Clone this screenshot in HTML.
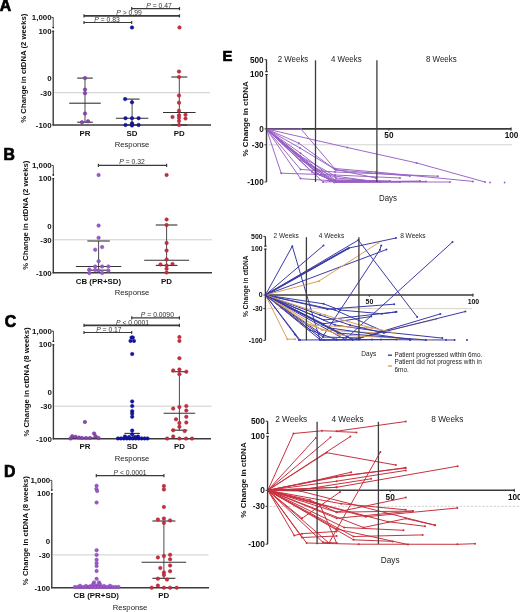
<!DOCTYPE html>
<html><head><meta charset="utf-8"><style>
html,body{margin:0;padding:0;background:#fff;}
body{width:520px;height:612px;overflow:hidden;}
svg{display:block;font-family:"Liberation Sans", sans-serif;filter:blur(0.25px);}
</style></head><body>
<svg width="520" height="612" viewBox="0 0 520 612">
<rect width="520" height="612" fill="#fff"/>
<text x="-0.20" y="11.46" font-size="15.8" font-weight="bold" text-anchor="start" fill="#000" stroke="#000" stroke-width="0.7">A</text>
<line x1="53.20" y1="17.40" x2="53.20" y2="27.60" stroke="#444" stroke-width="1.0" />
<circle cx="53.20" cy="27.60" r="0.9" fill="#222"/>
<line x1="53.20" y1="30.80" x2="53.20" y2="125.60" stroke="#3a3a3a" stroke-width="1.4" />
<line x1="52.30" y1="31.20" x2="54.10" y2="31.20" stroke="#222" stroke-width="1.2" />
<line x1="51.60" y1="17.40" x2="53.20" y2="17.40" stroke="#3a3a3a" stroke-width="1.0" />
<text x="51.60" y="20.23" font-size="7.9" font-weight="bold" text-anchor="end" fill="#111" >1,000</text>
<text x="51.60" y="33.63" font-size="7.9" font-weight="bold" text-anchor="end" fill="#111" >100</text>
<text x="51.60" y="80.83" font-size="7.9" font-weight="bold" text-anchor="end" fill="#111" >0</text>
<text x="51.60" y="95.53" font-size="7.9" font-weight="bold" text-anchor="end" fill="#111" >-30</text>
<text x="51.60" y="127.83" font-size="7.9" font-weight="bold" text-anchor="end" fill="#111" >-100</text>
<line x1="54.20" y1="92.70" x2="210.00" y2="92.70" stroke="#c8c8c8" stroke-width="0.9" />
<line x1="52.50" y1="125.00" x2="211.00" y2="125.00" stroke="#3a3a3a" stroke-width="1.6" />
<g transform="translate(23.00,68.20) rotate(-90)"><text x="0" y="2.77" font-size="7.75" font-weight="bold" text-anchor="middle" fill="#111">% Change in ctDNA (2 weeks)</text></g>
<text x="85.00" y="135.83" font-size="7.9" font-weight="bold" text-anchor="middle" fill="#111" >PR</text>
<text x="132.10" y="135.83" font-size="7.9" font-weight="bold" text-anchor="middle" fill="#111" >SD</text>
<text x="179.30" y="135.83" font-size="7.9" font-weight="bold" text-anchor="middle" fill="#111" >PD</text>
<text x="132.00" y="147.36" font-size="7.7" font-weight="normal" text-anchor="middle" fill="#222" >Response</text>
<line x1="85.00" y1="78.10" x2="85.00" y2="122.20" stroke="#4a4a4a" stroke-width="1" />
<line x1="77.20" y1="78.10" x2="92.80" y2="78.10" stroke="#333" stroke-width="1.1" />
<line x1="77.20" y1="122.20" x2="92.80" y2="122.20" stroke="#333" stroke-width="1.1" />
<line x1="69.20" y1="103.20" x2="100.80" y2="103.20" stroke="#333" stroke-width="1.1" />
<circle cx="85.00" cy="78.10" r="1.75" fill="#8a46b0" stroke="#6a3090" stroke-width="0.5"/>
<circle cx="85.00" cy="89.60" r="1.75" fill="#8a46b0" stroke="#6a3090" stroke-width="0.5"/>
<circle cx="85.00" cy="93.20" r="1.75" fill="#8a46b0" stroke="#6a3090" stroke-width="0.5"/>
<circle cx="85.00" cy="113.50" r="1.75" fill="#8a46b0" stroke="#6a3090" stroke-width="0.5"/>
<circle cx="82.00" cy="122.20" r="1.75" fill="#8a46b0" stroke="#6a3090" stroke-width="0.5"/>
<circle cx="88.00" cy="121.20" r="1.75" fill="#8a46b0" stroke="#6a3090" stroke-width="0.5"/>
<line x1="132.10" y1="99.10" x2="132.10" y2="125.00" stroke="#4a4a4a" stroke-width="1" />
<line x1="124.60" y1="99.10" x2="139.60" y2="99.10" stroke="#333" stroke-width="1.1" />
<line x1="124.60" y1="125.00" x2="139.60" y2="125.00" stroke="#333" stroke-width="1.1" />
<line x1="115.90" y1="118.20" x2="148.30" y2="118.20" stroke="#333" stroke-width="1.1" />
<circle cx="132.00" cy="27.50" r="1.75" fill="#1414a8" stroke="#0c0c80" stroke-width="0.5"/>
<circle cx="125.10" cy="99.10" r="1.75" fill="#1414a8" stroke="#0c0c80" stroke-width="0.5"/>
<circle cx="132.00" cy="102.30" r="1.75" fill="#1414a8" stroke="#0c0c80" stroke-width="0.5"/>
<circle cx="125.50" cy="118.20" r="1.75" fill="#1414a8" stroke="#0c0c80" stroke-width="0.5"/>
<circle cx="132.00" cy="118.20" r="1.75" fill="#1414a8" stroke="#0c0c80" stroke-width="0.5"/>
<circle cx="138.60" cy="118.20" r="1.75" fill="#1414a8" stroke="#0c0c80" stroke-width="0.5"/>
<circle cx="125.50" cy="125.00" r="1.75" fill="#1414a8" stroke="#0c0c80" stroke-width="0.5"/>
<circle cx="132.00" cy="123.30" r="1.75" fill="#1414a8" stroke="#0c0c80" stroke-width="0.5"/>
<circle cx="132.00" cy="125.50" r="1.75" fill="#1414a8" stroke="#0c0c80" stroke-width="0.5"/>
<circle cx="138.60" cy="125.00" r="1.75" fill="#1414a8" stroke="#0c0c80" stroke-width="0.5"/>
<line x1="179.30" y1="77.00" x2="179.30" y2="125.00" stroke="#4a4a4a" stroke-width="1" />
<line x1="171.30" y1="77.00" x2="187.30" y2="77.00" stroke="#333" stroke-width="1.1" />
<line x1="171.30" y1="125.00" x2="187.30" y2="125.00" stroke="#333" stroke-width="1.1" />
<line x1="163.00" y1="112.50" x2="195.60" y2="112.50" stroke="#333" stroke-width="1.1" />
<circle cx="179.50" cy="27.50" r="1.75" fill="#cc2c40" stroke="#a02030" stroke-width="0.5"/>
<circle cx="179.00" cy="71.60" r="1.75" fill="#cc2c40" stroke="#a02030" stroke-width="0.5"/>
<circle cx="179.00" cy="77.00" r="1.75" fill="#cc2c40" stroke="#a02030" stroke-width="0.5"/>
<circle cx="179.00" cy="95.50" r="1.75" fill="#cc2c40" stroke="#a02030" stroke-width="0.5"/>
<circle cx="179.00" cy="102.70" r="1.75" fill="#cc2c40" stroke="#a02030" stroke-width="0.5"/>
<circle cx="179.00" cy="110.80" r="1.75" fill="#cc2c40" stroke="#a02030" stroke-width="0.5"/>
<circle cx="179.00" cy="115.30" r="1.75" fill="#cc2c40" stroke="#a02030" stroke-width="0.5"/>
<circle cx="172.50" cy="117.00" r="1.75" fill="#cc2c40" stroke="#a02030" stroke-width="0.5"/>
<circle cx="179.00" cy="117.80" r="1.75" fill="#cc2c40" stroke="#a02030" stroke-width="0.5"/>
<circle cx="185.50" cy="114.70" r="1.75" fill="#cc2c40" stroke="#a02030" stroke-width="0.5"/>
<circle cx="185.50" cy="118.50" r="1.75" fill="#cc2c40" stroke="#a02030" stroke-width="0.5"/>
<circle cx="179.00" cy="121.00" r="1.75" fill="#cc2c40" stroke="#a02030" stroke-width="0.5"/>
<circle cx="179.00" cy="125.00" r="1.75" fill="#cc2c40" stroke="#a02030" stroke-width="0.5"/>
<line x1="131.70" y1="8.70" x2="179.50" y2="8.70" stroke="#3a3a3a" stroke-width="1.2" />
<line x1="131.70" y1="7.10" x2="131.70" y2="10.30" stroke="#3a3a3a" stroke-width="1.2" />
<line x1="179.50" y1="7.10" x2="179.50" y2="10.30" stroke="#3a3a3a" stroke-width="1.2" />
<text x="159.00" y="7.63" font-size="6.8" text-anchor="middle" fill="#333"><tspan font-style="italic">P</tspan> = 0.47</text>
<line x1="84.00" y1="15.90" x2="179.50" y2="15.90" stroke="#3a3a3a" stroke-width="1.8" />
<line x1="84.00" y1="14.30" x2="84.00" y2="17.50" stroke="#3a3a3a" stroke-width="1.2" />
<line x1="179.50" y1="14.30" x2="179.50" y2="17.50" stroke="#3a3a3a" stroke-width="1.2" />
<text x="129.00" y="14.63" font-size="6.8" text-anchor="middle" fill="#333"><tspan font-style="italic">P</tspan> &gt; 0.99</text>
<line x1="84.00" y1="22.50" x2="131.70" y2="22.50" stroke="#3a3a3a" stroke-width="1.2" />
<line x1="84.00" y1="20.90" x2="84.00" y2="24.10" stroke="#3a3a3a" stroke-width="1.2" />
<line x1="131.70" y1="20.90" x2="131.70" y2="24.10" stroke="#3a3a3a" stroke-width="1.2" />
<text x="107.00" y="21.73" font-size="6.8" text-anchor="middle" fill="#333"><tspan font-style="italic">P</tspan> = 0.83</text>
<text x="3.40" y="160.46" font-size="15.8" font-weight="bold" text-anchor="start" fill="#000" stroke="#000" stroke-width="0.7">B</text>
<line x1="53.30" y1="165.40" x2="53.30" y2="175.00" stroke="#444" stroke-width="1.0" />
<circle cx="53.30" cy="175.00" r="0.9" fill="#222"/>
<line x1="53.30" y1="178.20" x2="53.30" y2="273.40" stroke="#3a3a3a" stroke-width="1.4" />
<line x1="52.40" y1="178.60" x2="54.20" y2="178.60" stroke="#222" stroke-width="1.2" />
<line x1="51.70" y1="165.40" x2="53.30" y2="165.40" stroke="#3a3a3a" stroke-width="1.0" />
<text x="51.70" y="168.23" font-size="7.9" font-weight="bold" text-anchor="end" fill="#111" >1,000</text>
<text x="51.70" y="181.03" font-size="7.9" font-weight="bold" text-anchor="end" fill="#111" >100</text>
<text x="51.70" y="228.63" font-size="7.9" font-weight="bold" text-anchor="end" fill="#111" >0</text>
<text x="51.70" y="242.63" font-size="7.9" font-weight="bold" text-anchor="end" fill="#111" >-30</text>
<text x="51.70" y="275.63" font-size="7.9" font-weight="bold" text-anchor="end" fill="#111" >-100</text>
<line x1="54.30" y1="239.80" x2="212.00" y2="239.80" stroke="#c8c8c8" stroke-width="0.9" />
<line x1="52.60" y1="272.80" x2="212.00" y2="272.80" stroke="#3a3a3a" stroke-width="1.6" />
<g transform="translate(25.40,215.20) rotate(-90)"><text x="0" y="2.77" font-size="7.75" font-weight="bold" text-anchor="middle" fill="#111">% Change in ctDNA (2 weeks)</text></g>
<text x="98.40" y="283.73" font-size="7.9" font-weight="bold" text-anchor="middle" fill="#111" >CB (PR+SD)</text>
<text x="166.60" y="283.73" font-size="7.9" font-weight="bold" text-anchor="middle" fill="#111" >PD</text>
<text x="132.00" y="295.36" font-size="7.7" font-weight="normal" text-anchor="middle" fill="#222" >Response</text>
<line x1="98.60" y1="241.00" x2="98.60" y2="270.20" stroke="#4a4a4a" stroke-width="1" />
<line x1="87.40" y1="241.00" x2="109.80" y2="241.00" stroke="#333" stroke-width="1.1" />
<line x1="87.40" y1="270.20" x2="109.80" y2="270.20" stroke="#333" stroke-width="1.1" />
<line x1="75.90" y1="266.50" x2="121.30" y2="266.50" stroke="#333" stroke-width="1.1" />
<circle cx="98.60" cy="175.00" r="1.75" fill="#9c58cc" stroke="#7c44a8" stroke-width="0.5"/>
<circle cx="98.60" cy="225.60" r="1.75" fill="#9c58cc" stroke="#7c44a8" stroke-width="0.5"/>
<circle cx="98.60" cy="237.80" r="1.75" fill="#9c58cc" stroke="#7c44a8" stroke-width="0.5"/>
<circle cx="102.10" cy="247.10" r="1.75" fill="#9c58cc" stroke="#7c44a8" stroke-width="0.5"/>
<circle cx="95.20" cy="249.70" r="1.75" fill="#9c58cc" stroke="#7c44a8" stroke-width="0.5"/>
<circle cx="98.60" cy="261.20" r="1.75" fill="#9c58cc" stroke="#7c44a8" stroke-width="0.5"/>
<circle cx="95.20" cy="266.50" r="1.75" fill="#9c58cc" stroke="#7c44a8" stroke-width="0.5"/>
<circle cx="102.10" cy="266.50" r="1.75" fill="#9c58cc" stroke="#7c44a8" stroke-width="0.5"/>
<circle cx="108.40" cy="266.50" r="1.75" fill="#9c58cc" stroke="#7c44a8" stroke-width="0.5"/>
<circle cx="89.30" cy="269.50" r="1.75" fill="#9c58cc" stroke="#7c44a8" stroke-width="0.5"/>
<circle cx="95.20" cy="270.00" r="1.75" fill="#9c58cc" stroke="#7c44a8" stroke-width="0.5"/>
<circle cx="108.40" cy="270.70" r="1.75" fill="#9c58cc" stroke="#7c44a8" stroke-width="0.5"/>
<circle cx="89.30" cy="273.00" r="1.75" fill="#9c58cc" stroke="#7c44a8" stroke-width="0.5"/>
<circle cx="102.10" cy="273.00" r="1.75" fill="#9c58cc" stroke="#7c44a8" stroke-width="0.5"/>
<circle cx="98.60" cy="270.50" r="1.75" fill="#9c58cc" stroke="#7c44a8" stroke-width="0.5"/>
<line x1="166.60" y1="225.00" x2="166.60" y2="265.40" stroke="#4a4a4a" stroke-width="1" />
<line x1="155.80" y1="225.00" x2="177.40" y2="225.00" stroke="#333" stroke-width="1.1" />
<line x1="155.80" y1="265.40" x2="177.40" y2="265.40" stroke="#333" stroke-width="1.1" />
<line x1="144.20" y1="260.20" x2="189.00" y2="260.20" stroke="#333" stroke-width="1.1" />
<circle cx="166.60" cy="175.00" r="1.75" fill="#cc2c40" stroke="#a02030" stroke-width="0.5"/>
<circle cx="166.60" cy="219.50" r="1.75" fill="#cc2c40" stroke="#a02030" stroke-width="0.5"/>
<circle cx="166.60" cy="225.00" r="1.75" fill="#cc2c40" stroke="#a02030" stroke-width="0.5"/>
<circle cx="166.60" cy="243.00" r="1.75" fill="#cc2c40" stroke="#a02030" stroke-width="0.5"/>
<circle cx="166.60" cy="250.60" r="1.75" fill="#cc2c40" stroke="#a02030" stroke-width="0.5"/>
<circle cx="166.60" cy="259.40" r="1.75" fill="#cc2c40" stroke="#a02030" stroke-width="0.5"/>
<circle cx="160.50" cy="264.50" r="1.75" fill="#cc2c40" stroke="#a02030" stroke-width="0.5"/>
<circle cx="172.50" cy="264.00" r="1.75" fill="#cc2c40" stroke="#a02030" stroke-width="0.5"/>
<circle cx="166.60" cy="265.50" r="1.75" fill="#cc2c40" stroke="#a02030" stroke-width="0.5"/>
<circle cx="166.60" cy="268.70" r="1.75" fill="#cc2c40" stroke="#a02030" stroke-width="0.5"/>
<circle cx="166.60" cy="272.50" r="1.75" fill="#cc2c40" stroke="#a02030" stroke-width="0.5"/>
<line x1="98.40" y1="165.30" x2="166.60" y2="165.30" stroke="#3a3a3a" stroke-width="1.2" />
<line x1="98.40" y1="163.70" x2="98.40" y2="166.90" stroke="#3a3a3a" stroke-width="1.2" />
<line x1="166.60" y1="163.70" x2="166.60" y2="166.90" stroke="#3a3a3a" stroke-width="1.2" />
<text x="132.00" y="164.03" font-size="6.8" text-anchor="middle" fill="#333"><tspan font-style="italic">P</tspan> = 0.32</text>
<text x="4.70" y="326.86" font-size="15.8" font-weight="bold" text-anchor="start" fill="#000" stroke="#000" stroke-width="0.7">C</text>
<line x1="53.40" y1="331.10" x2="53.40" y2="341.20" stroke="#444" stroke-width="1.0" />
<circle cx="53.40" cy="341.20" r="0.9" fill="#222"/>
<line x1="53.40" y1="344.40" x2="53.40" y2="439.40" stroke="#3a3a3a" stroke-width="1.4" />
<line x1="52.50" y1="344.80" x2="54.30" y2="344.80" stroke="#222" stroke-width="1.2" />
<line x1="51.80" y1="331.10" x2="53.40" y2="331.10" stroke="#3a3a3a" stroke-width="1.0" />
<text x="51.80" y="333.93" font-size="7.9" font-weight="bold" text-anchor="end" fill="#111" >1,000</text>
<text x="51.80" y="347.23" font-size="7.9" font-weight="bold" text-anchor="end" fill="#111" >100</text>
<text x="51.80" y="394.63" font-size="7.9" font-weight="bold" text-anchor="end" fill="#111" >0</text>
<text x="51.80" y="409.03" font-size="7.9" font-weight="bold" text-anchor="end" fill="#111" >-30</text>
<text x="51.80" y="441.63" font-size="7.9" font-weight="bold" text-anchor="end" fill="#111" >-100</text>
<line x1="54.40" y1="406.20" x2="211.50" y2="406.20" stroke="#c8c8c8" stroke-width="0.9" />
<line x1="52.70" y1="438.80" x2="211.00" y2="438.80" stroke="#3a3a3a" stroke-width="1.6" />
<g transform="translate(26.40,382.00) rotate(-90)"><text x="0" y="2.77" font-size="7.75" font-weight="bold" text-anchor="middle" fill="#111">% Change in ctDNA (8 weeks)</text></g>
<text x="84.90" y="449.33" font-size="7.9" font-weight="bold" text-anchor="middle" fill="#111" >PR</text>
<text x="132.20" y="449.33" font-size="7.9" font-weight="bold" text-anchor="middle" fill="#111" >SD</text>
<text x="179.40" y="449.33" font-size="7.9" font-weight="bold" text-anchor="middle" fill="#111" >PD</text>
<text x="132.00" y="460.76" font-size="7.7" font-weight="normal" text-anchor="middle" fill="#222" >Response</text>
<line x1="84.90" y1="438.00" x2="84.90" y2="438.00" stroke="#4a4a4a" stroke-width="1" />
<line x1="84.90" y1="438.00" x2="84.90" y2="438.00" stroke="#333" stroke-width="1.1" />
<line x1="84.90" y1="438.00" x2="84.90" y2="438.00" stroke="#333" stroke-width="1.1" />
<line x1="70.90" y1="438.00" x2="98.90" y2="438.00" stroke="#333" stroke-width="1.1" />
<circle cx="84.90" cy="422.00" r="1.75" fill="#8a46b0" stroke="#6a3090" stroke-width="0.5"/>
<circle cx="94.10" cy="433.50" r="1.75" fill="#8a46b0" stroke="#6a3090" stroke-width="0.5"/>
<circle cx="72.20" cy="436.20" r="1.75" fill="#8a46b0" stroke="#6a3090" stroke-width="0.5"/>
<circle cx="75.50" cy="436.80" r="1.75" fill="#8a46b0" stroke="#6a3090" stroke-width="0.5"/>
<circle cx="79.00" cy="437.60" r="1.75" fill="#8a46b0" stroke="#6a3090" stroke-width="0.5"/>
<circle cx="82.00" cy="438.00" r="1.75" fill="#8a46b0" stroke="#6a3090" stroke-width="0.5"/>
<circle cx="86.00" cy="438.00" r="1.75" fill="#8a46b0" stroke="#6a3090" stroke-width="0.5"/>
<circle cx="90.00" cy="438.00" r="1.75" fill="#8a46b0" stroke="#6a3090" stroke-width="0.5"/>
<circle cx="95.50" cy="436.20" r="1.75" fill="#8a46b0" stroke="#6a3090" stroke-width="0.5"/>
<circle cx="98.50" cy="438.00" r="1.75" fill="#8a46b0" stroke="#6a3090" stroke-width="0.5"/>
<circle cx="70.50" cy="438.50" r="1.75" fill="#8a46b0" stroke="#6a3090" stroke-width="0.5"/>
<line x1="132.20" y1="433.40" x2="132.20" y2="438.00" stroke="#4a4a4a" stroke-width="1" />
<line x1="132.20" y1="433.40" x2="132.20" y2="433.40" stroke="#333" stroke-width="1.1" />
<line x1="132.20" y1="438.00" x2="132.20" y2="438.00" stroke="#333" stroke-width="1.1" />
<line x1="124.50" y1="433.40" x2="139.90" y2="433.40" stroke="#333" stroke-width="1.1" />
<circle cx="131.60" cy="337.50" r="1.75" fill="#1414a8" stroke="#0c0c80" stroke-width="0.5"/>
<circle cx="132.80" cy="337.50" r="1.75" fill="#1414a8" stroke="#0c0c80" stroke-width="0.5"/>
<circle cx="130.50" cy="340.90" r="1.75" fill="#1414a8" stroke="#0c0c80" stroke-width="0.5"/>
<circle cx="134.00" cy="340.90" r="1.75" fill="#1414a8" stroke="#0c0c80" stroke-width="0.5"/>
<circle cx="132.20" cy="354.00" r="1.75" fill="#1414a8" stroke="#0c0c80" stroke-width="0.5"/>
<circle cx="132.20" cy="401.40" r="1.75" fill="#1414a8" stroke="#0c0c80" stroke-width="0.5"/>
<circle cx="132.20" cy="406.10" r="1.75" fill="#1414a8" stroke="#0c0c80" stroke-width="0.5"/>
<circle cx="132.20" cy="411.20" r="1.75" fill="#1414a8" stroke="#0c0c80" stroke-width="0.5"/>
<circle cx="132.20" cy="413.60" r="1.75" fill="#1414a8" stroke="#0c0c80" stroke-width="0.5"/>
<circle cx="132.20" cy="416.80" r="1.75" fill="#1414a8" stroke="#0c0c80" stroke-width="0.5"/>
<circle cx="132.20" cy="430.60" r="1.75" fill="#1414a8" stroke="#0c0c80" stroke-width="0.5"/>
<circle cx="132.20" cy="434.30" r="1.75" fill="#1414a8" stroke="#0c0c80" stroke-width="0.5"/>
<circle cx="118.00" cy="438.40" r="1.75" fill="#1414a8" stroke="#0c0c80" stroke-width="0.5"/>
<circle cx="120.95" cy="438.40" r="1.75" fill="#1414a8" stroke="#0c0c80" stroke-width="0.5"/>
<circle cx="123.90" cy="438.40" r="1.75" fill="#1414a8" stroke="#0c0c80" stroke-width="0.5"/>
<circle cx="126.85" cy="438.40" r="1.75" fill="#1414a8" stroke="#0c0c80" stroke-width="0.5"/>
<circle cx="129.80" cy="438.40" r="1.75" fill="#1414a8" stroke="#0c0c80" stroke-width="0.5"/>
<circle cx="132.75" cy="438.40" r="1.75" fill="#1414a8" stroke="#0c0c80" stroke-width="0.5"/>
<circle cx="135.70" cy="438.40" r="1.75" fill="#1414a8" stroke="#0c0c80" stroke-width="0.5"/>
<circle cx="138.65" cy="438.40" r="1.75" fill="#1414a8" stroke="#0c0c80" stroke-width="0.5"/>
<circle cx="141.60" cy="438.40" r="1.75" fill="#1414a8" stroke="#0c0c80" stroke-width="0.5"/>
<circle cx="144.55" cy="438.40" r="1.75" fill="#1414a8" stroke="#0c0c80" stroke-width="0.5"/>
<circle cx="147.50" cy="438.40" r="1.75" fill="#1414a8" stroke="#0c0c80" stroke-width="0.5"/>
<circle cx="125.00" cy="436.50" r="1.75" fill="#1414a8" stroke="#0c0c80" stroke-width="0.5"/>
<circle cx="138.00" cy="436.50" r="1.75" fill="#1414a8" stroke="#0c0c80" stroke-width="0.5"/>
<circle cx="129.00" cy="437.00" r="1.75" fill="#1414a8" stroke="#0c0c80" stroke-width="0.5"/>
<circle cx="135.00" cy="437.00" r="1.75" fill="#1414a8" stroke="#0c0c80" stroke-width="0.5"/>
<line x1="179.40" y1="371.70" x2="179.40" y2="430.20" stroke="#4a4a4a" stroke-width="1" />
<line x1="171.40" y1="371.70" x2="187.40" y2="371.70" stroke="#333" stroke-width="1.1" />
<line x1="171.40" y1="430.20" x2="187.40" y2="430.20" stroke="#333" stroke-width="1.1" />
<line x1="163.60" y1="413.30" x2="195.20" y2="413.30" stroke="#333" stroke-width="1.1" />
<circle cx="179.40" cy="337.10" r="1.75" fill="#cc2c40" stroke="#a02030" stroke-width="0.5"/>
<circle cx="179.40" cy="340.90" r="1.75" fill="#cc2c40" stroke="#a02030" stroke-width="0.5"/>
<circle cx="179.40" cy="358.20" r="1.75" fill="#cc2c40" stroke="#a02030" stroke-width="0.5"/>
<circle cx="179.40" cy="369.50" r="1.75" fill="#cc2c40" stroke="#a02030" stroke-width="0.5"/>
<circle cx="173.20" cy="370.40" r="1.75" fill="#cc2c40" stroke="#a02030" stroke-width="0.5"/>
<circle cx="186.30" cy="371.70" r="1.75" fill="#cc2c40" stroke="#a02030" stroke-width="0.5"/>
<circle cx="179.40" cy="374.20" r="1.75" fill="#cc2c40" stroke="#a02030" stroke-width="0.5"/>
<circle cx="173.20" cy="408.60" r="1.75" fill="#cc2c40" stroke="#a02030" stroke-width="0.5"/>
<circle cx="179.40" cy="407.10" r="1.75" fill="#cc2c40" stroke="#a02030" stroke-width="0.5"/>
<circle cx="186.30" cy="406.10" r="1.75" fill="#cc2c40" stroke="#a02030" stroke-width="0.5"/>
<circle cx="186.30" cy="410.50" r="1.75" fill="#cc2c40" stroke="#a02030" stroke-width="0.5"/>
<circle cx="186.30" cy="416.80" r="1.75" fill="#cc2c40" stroke="#a02030" stroke-width="0.5"/>
<circle cx="176.00" cy="419.30" r="1.75" fill="#cc2c40" stroke="#a02030" stroke-width="0.5"/>
<circle cx="186.30" cy="422.50" r="1.75" fill="#cc2c40" stroke="#a02030" stroke-width="0.5"/>
<circle cx="179.40" cy="423.00" r="1.75" fill="#cc2c40" stroke="#a02030" stroke-width="0.5"/>
<circle cx="179.40" cy="426.80" r="1.75" fill="#cc2c40" stroke="#a02030" stroke-width="0.5"/>
<circle cx="173.20" cy="430.20" r="1.75" fill="#cc2c40" stroke="#a02030" stroke-width="0.5"/>
<circle cx="184.70" cy="431.10" r="1.75" fill="#cc2c40" stroke="#a02030" stroke-width="0.5"/>
<circle cx="173.20" cy="436.50" r="1.75" fill="#cc2c40" stroke="#a02030" stroke-width="0.5"/>
<circle cx="167.10" cy="438.60" r="1.75" fill="#cc2c40" stroke="#a02030" stroke-width="0.5"/>
<circle cx="179.40" cy="438.60" r="1.75" fill="#cc2c40" stroke="#a02030" stroke-width="0.5"/>
<circle cx="186.00" cy="438.60" r="1.75" fill="#cc2c40" stroke="#a02030" stroke-width="0.5"/>
<circle cx="192.00" cy="438.60" r="1.75" fill="#cc2c40" stroke="#a02030" stroke-width="0.5"/>
<line x1="131.70" y1="317.80" x2="179.40" y2="317.80" stroke="#3a3a3a" stroke-width="1.2" />
<line x1="131.70" y1="316.20" x2="131.70" y2="319.40" stroke="#3a3a3a" stroke-width="1.2" />
<line x1="179.40" y1="316.20" x2="179.40" y2="319.40" stroke="#3a3a3a" stroke-width="1.2" />
<text x="157.40" y="317.03" font-size="6.8" text-anchor="middle" fill="#333"><tspan font-style="italic">P</tspan> = 0.0090</text>
<line x1="84.00" y1="325.40" x2="179.40" y2="325.40" stroke="#3a3a3a" stroke-width="1.6" />
<line x1="84.00" y1="323.80" x2="84.00" y2="327.00" stroke="#3a3a3a" stroke-width="1.2" />
<line x1="179.40" y1="323.80" x2="179.40" y2="327.00" stroke="#3a3a3a" stroke-width="1.2" />
<text x="132.60" y="324.63" font-size="6.8" text-anchor="middle" fill="#333"><tspan font-style="italic">P</tspan> &lt; 0.0001</text>
<line x1="84.00" y1="332.50" x2="131.70" y2="332.50" stroke="#3a3a3a" stroke-width="1.2" />
<line x1="84.00" y1="330.90" x2="84.00" y2="334.10" stroke="#3a3a3a" stroke-width="1.2" />
<line x1="131.70" y1="330.90" x2="131.70" y2="334.10" stroke="#3a3a3a" stroke-width="1.2" />
<text x="108.90" y="331.83" font-size="6.8" text-anchor="middle" fill="#333"><tspan font-style="italic">P</tspan> = 0.17</text>
<text x="4.00" y="477.16" font-size="15.8" font-weight="bold" text-anchor="start" fill="#000" stroke="#000" stroke-width="0.7">D</text>
<line x1="51.80" y1="480.40" x2="51.80" y2="490.10" stroke="#444" stroke-width="1.0" />
<circle cx="51.80" cy="490.10" r="0.9" fill="#222"/>
<line x1="51.80" y1="493.30" x2="51.80" y2="588.30" stroke="#3a3a3a" stroke-width="1.4" />
<line x1="50.90" y1="493.70" x2="52.70" y2="493.70" stroke="#222" stroke-width="1.2" />
<line x1="50.20" y1="480.40" x2="51.80" y2="480.40" stroke="#3a3a3a" stroke-width="1.0" />
<text x="50.20" y="483.23" font-size="7.9" font-weight="bold" text-anchor="end" fill="#111" >1,000</text>
<text x="50.20" y="496.13" font-size="7.9" font-weight="bold" text-anchor="end" fill="#111" >100</text>
<text x="50.20" y="544.03" font-size="7.9" font-weight="bold" text-anchor="end" fill="#111" >0</text>
<text x="50.20" y="557.73" font-size="7.9" font-weight="bold" text-anchor="end" fill="#111" >-30</text>
<text x="50.20" y="590.53" font-size="7.9" font-weight="bold" text-anchor="end" fill="#111" >-100</text>
<line x1="52.80" y1="554.90" x2="208.50" y2="554.90" stroke="#c8c8c8" stroke-width="0.9" />
<line x1="51.10" y1="587.70" x2="209.00" y2="587.70" stroke="#3a3a3a" stroke-width="1.6" />
<g transform="translate(25.40,530.60) rotate(-90)"><text x="0" y="2.77" font-size="7.75" font-weight="bold" text-anchor="middle" fill="#111">% Change in ctDNA (8 weeks)</text></g>
<text x="96.30" y="598.23" font-size="7.9" font-weight="bold" text-anchor="middle" fill="#111" >CB (PR+SD)</text>
<text x="163.70" y="598.23" font-size="7.9" font-weight="bold" text-anchor="middle" fill="#111" >PD</text>
<text x="130.00" y="609.76" font-size="7.7" font-weight="normal" text-anchor="middle" fill="#222" >Response</text>
<line x1="96.60" y1="587.00" x2="96.60" y2="587.00" stroke="#4a4a4a" stroke-width="1" />
<line x1="96.60" y1="587.00" x2="96.60" y2="587.00" stroke="#333" stroke-width="1.1" />
<line x1="96.60" y1="587.00" x2="96.60" y2="587.00" stroke="#333" stroke-width="1.1" />
<line x1="74.60" y1="587.00" x2="118.60" y2="587.00" stroke="#333" stroke-width="1.1" />
<circle cx="96.60" cy="485.80" r="1.75" fill="#9c58cc" stroke="#7c44a8" stroke-width="0.5"/>
<circle cx="96.40" cy="489.00" r="1.75" fill="#9c58cc" stroke="#7c44a8" stroke-width="0.5"/>
<circle cx="97.20" cy="491.00" r="1.75" fill="#9c58cc" stroke="#7c44a8" stroke-width="0.5"/>
<circle cx="96.60" cy="502.50" r="1.75" fill="#9c58cc" stroke="#7c44a8" stroke-width="0.5"/>
<circle cx="96.60" cy="550.20" r="1.75" fill="#9c58cc" stroke="#7c44a8" stroke-width="0.5"/>
<circle cx="96.60" cy="554.90" r="1.75" fill="#9c58cc" stroke="#7c44a8" stroke-width="0.5"/>
<circle cx="96.60" cy="559.80" r="1.75" fill="#9c58cc" stroke="#7c44a8" stroke-width="0.5"/>
<circle cx="96.60" cy="563.10" r="1.75" fill="#9c58cc" stroke="#7c44a8" stroke-width="0.5"/>
<circle cx="96.60" cy="566.10" r="1.75" fill="#9c58cc" stroke="#7c44a8" stroke-width="0.5"/>
<circle cx="96.60" cy="571.00" r="1.75" fill="#9c58cc" stroke="#7c44a8" stroke-width="0.5"/>
<circle cx="96.60" cy="578.80" r="1.75" fill="#9c58cc" stroke="#7c44a8" stroke-width="0.5"/>
<circle cx="94.00" cy="582.40" r="1.75" fill="#9c58cc" stroke="#7c44a8" stroke-width="0.5"/>
<circle cx="99.00" cy="582.40" r="1.75" fill="#9c58cc" stroke="#7c44a8" stroke-width="0.5"/>
<circle cx="93.00" cy="584.50" r="1.75" fill="#9c58cc" stroke="#7c44a8" stroke-width="0.5"/>
<circle cx="100.00" cy="584.50" r="1.75" fill="#9c58cc" stroke="#7c44a8" stroke-width="0.5"/>
<circle cx="96.60" cy="585.50" r="1.75" fill="#9c58cc" stroke="#7c44a8" stroke-width="0.5"/>
<circle cx="75.00" cy="587.00" r="1.75" fill="#9c58cc" stroke="#7c44a8" stroke-width="0.5"/>
<circle cx="77.90" cy="587.00" r="1.75" fill="#9c58cc" stroke="#7c44a8" stroke-width="0.5"/>
<circle cx="80.80" cy="587.00" r="1.75" fill="#9c58cc" stroke="#7c44a8" stroke-width="0.5"/>
<circle cx="83.70" cy="587.00" r="1.75" fill="#9c58cc" stroke="#7c44a8" stroke-width="0.5"/>
<circle cx="86.60" cy="587.00" r="1.75" fill="#9c58cc" stroke="#7c44a8" stroke-width="0.5"/>
<circle cx="89.50" cy="587.00" r="1.75" fill="#9c58cc" stroke="#7c44a8" stroke-width="0.5"/>
<circle cx="92.40" cy="587.00" r="1.75" fill="#9c58cc" stroke="#7c44a8" stroke-width="0.5"/>
<circle cx="95.30" cy="587.00" r="1.75" fill="#9c58cc" stroke="#7c44a8" stroke-width="0.5"/>
<circle cx="98.20" cy="587.00" r="1.75" fill="#9c58cc" stroke="#7c44a8" stroke-width="0.5"/>
<circle cx="101.10" cy="587.00" r="1.75" fill="#9c58cc" stroke="#7c44a8" stroke-width="0.5"/>
<circle cx="104.00" cy="587.00" r="1.75" fill="#9c58cc" stroke="#7c44a8" stroke-width="0.5"/>
<circle cx="106.90" cy="587.00" r="1.75" fill="#9c58cc" stroke="#7c44a8" stroke-width="0.5"/>
<circle cx="109.80" cy="587.00" r="1.75" fill="#9c58cc" stroke="#7c44a8" stroke-width="0.5"/>
<circle cx="112.70" cy="587.00" r="1.75" fill="#9c58cc" stroke="#7c44a8" stroke-width="0.5"/>
<circle cx="115.60" cy="587.00" r="1.75" fill="#9c58cc" stroke="#7c44a8" stroke-width="0.5"/>
<circle cx="118.50" cy="587.00" r="1.75" fill="#9c58cc" stroke="#7c44a8" stroke-width="0.5"/>
<circle cx="80.00" cy="585.80" r="1.75" fill="#9c58cc" stroke="#7c44a8" stroke-width="0.5"/>
<circle cx="86.00" cy="586.00" r="1.75" fill="#9c58cc" stroke="#7c44a8" stroke-width="0.5"/>
<circle cx="104.00" cy="586.00" r="1.75" fill="#9c58cc" stroke="#7c44a8" stroke-width="0.5"/>
<circle cx="110.00" cy="585.80" r="1.75" fill="#9c58cc" stroke="#7c44a8" stroke-width="0.5"/>
<circle cx="90.00" cy="586.30" r="1.75" fill="#9c58cc" stroke="#7c44a8" stroke-width="0.5"/>
<line x1="163.90" y1="521.00" x2="163.90" y2="578.30" stroke="#4a4a4a" stroke-width="1" />
<line x1="152.40" y1="521.00" x2="175.40" y2="521.00" stroke="#333" stroke-width="1.1" />
<line x1="152.40" y1="578.30" x2="175.40" y2="578.30" stroke="#333" stroke-width="1.1" />
<line x1="141.60" y1="562.30" x2="186.20" y2="562.30" stroke="#333" stroke-width="1.1" />
<circle cx="163.90" cy="486.00" r="1.75" fill="#cc2c40" stroke="#a02030" stroke-width="0.5"/>
<circle cx="163.90" cy="489.40" r="1.75" fill="#cc2c40" stroke="#a02030" stroke-width="0.5"/>
<circle cx="163.90" cy="506.90" r="1.75" fill="#cc2c40" stroke="#a02030" stroke-width="0.5"/>
<circle cx="157.90" cy="519.50" r="1.75" fill="#cc2c40" stroke="#a02030" stroke-width="0.5"/>
<circle cx="163.90" cy="518.50" r="1.75" fill="#cc2c40" stroke="#a02030" stroke-width="0.5"/>
<circle cx="170.10" cy="520.40" r="1.75" fill="#cc2c40" stroke="#a02030" stroke-width="0.5"/>
<circle cx="163.90" cy="522.90" r="1.75" fill="#cc2c40" stroke="#a02030" stroke-width="0.5"/>
<circle cx="170.10" cy="554.80" r="1.75" fill="#cc2c40" stroke="#a02030" stroke-width="0.5"/>
<circle cx="157.90" cy="557.40" r="1.75" fill="#cc2c40" stroke="#a02030" stroke-width="0.5"/>
<circle cx="163.90" cy="556.10" r="1.75" fill="#cc2c40" stroke="#a02030" stroke-width="0.5"/>
<circle cx="170.10" cy="559.30" r="1.75" fill="#cc2c40" stroke="#a02030" stroke-width="0.5"/>
<circle cx="170.10" cy="565.50" r="1.75" fill="#cc2c40" stroke="#a02030" stroke-width="0.5"/>
<circle cx="160.30" cy="568.00" r="1.75" fill="#cc2c40" stroke="#a02030" stroke-width="0.5"/>
<circle cx="170.10" cy="571.20" r="1.75" fill="#cc2c40" stroke="#a02030" stroke-width="0.5"/>
<circle cx="163.90" cy="572.50" r="1.75" fill="#cc2c40" stroke="#a02030" stroke-width="0.5"/>
<circle cx="163.90" cy="575.00" r="1.75" fill="#cc2c40" stroke="#a02030" stroke-width="0.5"/>
<circle cx="157.90" cy="578.70" r="1.75" fill="#cc2c40" stroke="#a02030" stroke-width="0.5"/>
<circle cx="167.00" cy="579.60" r="1.75" fill="#cc2c40" stroke="#a02030" stroke-width="0.5"/>
<circle cx="157.90" cy="585.60" r="1.75" fill="#cc2c40" stroke="#a02030" stroke-width="0.5"/>
<circle cx="151.70" cy="587.70" r="1.75" fill="#cc2c40" stroke="#a02030" stroke-width="0.5"/>
<circle cx="163.90" cy="587.70" r="1.75" fill="#cc2c40" stroke="#a02030" stroke-width="0.5"/>
<circle cx="170.10" cy="587.70" r="1.75" fill="#cc2c40" stroke="#a02030" stroke-width="0.5"/>
<circle cx="176.70" cy="587.70" r="1.75" fill="#cc2c40" stroke="#a02030" stroke-width="0.5"/>
<line x1="96.30" y1="475.60" x2="163.90" y2="475.60" stroke="#3a3a3a" stroke-width="1.2" />
<line x1="96.30" y1="474.00" x2="96.30" y2="477.20" stroke="#3a3a3a" stroke-width="1.2" />
<line x1="163.90" y1="474.00" x2="163.90" y2="477.20" stroke="#3a3a3a" stroke-width="1.2" />
<text x="130.00" y="474.63" font-size="6.8" text-anchor="middle" fill="#333"><tspan font-style="italic">P</tspan> &lt; 0.0001</text>
<text x="222.60" y="60.90" font-size="14.8" font-weight="bold" text-anchor="start" fill="#000" stroke="#000" stroke-width="0.7">E</text>
<line x1="268.5" y1="144.8" x2="512" y2="144.8" stroke="#d2d2d2" stroke-width="1"/>
<line x1="266.50" y1="128.90" x2="511.50" y2="128.90" stroke="#3a3a3a" stroke-width="1.6" />
<path d="M266.5,129.0 L281.2,173.2 L335.0,175.0 L400.0,178.0" fill="none" stroke="#9860c4" stroke-width="0.95" stroke-linejoin="round" stroke-opacity="1.0"/>
<circle cx="281.2" cy="173.2" r="1" fill="#9860c4"/>
<circle cx="335.0" cy="175.0" r="1" fill="#9860c4"/>
<circle cx="400.0" cy="178.0" r="1" fill="#9860c4"/>
<path d="M266.5,129.0 L300.5,178.6 L335.0,181.0 L420.0,181.5" fill="none" stroke="#9860c4" stroke-width="0.95" stroke-linejoin="round" stroke-opacity="1.0"/>
<circle cx="300.5" cy="178.6" r="1" fill="#9860c4"/>
<circle cx="335.0" cy="181.0" r="1" fill="#9860c4"/>
<circle cx="420.0" cy="181.5" r="1" fill="#9860c4"/>
<path d="M266.5,129.0 L300.5,169.4 L335.0,172.0 L437.9,176.2" fill="none" stroke="#9860c4" stroke-width="0.95" stroke-linejoin="round" stroke-opacity="1.0"/>
<circle cx="300.5" cy="169.4" r="1" fill="#9860c4"/>
<circle cx="335.0" cy="172.0" r="1" fill="#9860c4"/>
<circle cx="437.9" cy="176.2" r="1" fill="#9860c4"/>
<path d="M266.5,129.0 L347.3,147.5 L416.5,162.9 L485.0,182.0" fill="none" stroke="#9860c4" stroke-width="0.95" stroke-linejoin="round" stroke-opacity="1.0"/>
<circle cx="347.3" cy="147.5" r="1" fill="#9860c4"/>
<circle cx="416.5" cy="162.9" r="1" fill="#9860c4"/>
<circle cx="485.0" cy="182.0" r="1" fill="#9860c4"/>
<path d="M266.5,129.0 L301.0,129.0 L334.6,168.5 L376.0,172.0 L472.9,181.4" fill="none" stroke="#9860c4" stroke-width="0.95" stroke-linejoin="round" stroke-opacity="1.0"/>
<circle cx="301.0" cy="129.0" r="1" fill="#9860c4"/>
<circle cx="334.6" cy="168.5" r="1" fill="#9860c4"/>
<circle cx="376.0" cy="172.0" r="1" fill="#9860c4"/>
<circle cx="472.9" cy="181.4" r="1" fill="#9860c4"/>
<path d="M266.5,129.0 L298.9,143.2 L334.6,169.2 L376.0,178.0" fill="none" stroke="#9860c4" stroke-width="0.95" stroke-linejoin="round" stroke-opacity="1.0"/>
<circle cx="298.9" cy="143.2" r="1" fill="#9860c4"/>
<circle cx="334.6" cy="169.2" r="1" fill="#9860c4"/>
<circle cx="376.0" cy="178.0" r="1" fill="#9860c4"/>
<path d="M266.5,129.0 L300.5,153.2 L335.0,180.0 L376.0,181.0" fill="none" stroke="#9860c4" stroke-width="0.95" stroke-linejoin="round" stroke-opacity="1.0"/>
<circle cx="300.5" cy="153.2" r="1" fill="#9860c4"/>
<circle cx="335.0" cy="180.0" r="1" fill="#9860c4"/>
<circle cx="376.0" cy="181.0" r="1" fill="#9860c4"/>
<path d="M266.5,129.0 L334.3,182.5 L420.0,181.0" fill="none" stroke="#9860c4" stroke-width="0.95" stroke-linejoin="round" stroke-opacity="1.0"/>
<circle cx="334.3" cy="182.5" r="1" fill="#9860c4"/>
<circle cx="420.0" cy="181.0" r="1" fill="#9860c4"/>
<path d="M266.5,129.0 L320.0,175.0 L335.0,182.0 L450.0,182.0" fill="none" stroke="#9860c4" stroke-width="0.95" stroke-linejoin="round" stroke-opacity="1.0"/>
<circle cx="320.0" cy="175.0" r="1" fill="#9860c4"/>
<circle cx="335.0" cy="182.0" r="1" fill="#9860c4"/>
<circle cx="450.0" cy="182.0" r="1" fill="#9860c4"/>
<path d="M266.5,129.0 L310.0,165.0 L334.0,180.0 L390.0,181.0" fill="none" stroke="#9860c4" stroke-width="0.95" stroke-linejoin="round" stroke-opacity="1.0"/>
<circle cx="310.0" cy="165.0" r="1" fill="#9860c4"/>
<circle cx="334.0" cy="180.0" r="1" fill="#9860c4"/>
<circle cx="390.0" cy="181.0" r="1" fill="#9860c4"/>
<path d="M266.5,129.0 L300.0,160.0 L336.0,178.0 L380.0,181.5" fill="none" stroke="#9860c4" stroke-width="0.95" stroke-linejoin="round" stroke-opacity="1.0"/>
<circle cx="300.0" cy="160.0" r="1" fill="#9860c4"/>
<circle cx="336.0" cy="178.0" r="1" fill="#9860c4"/>
<circle cx="380.0" cy="181.5" r="1" fill="#9860c4"/>
<path d="M266.5,129.0 L315.0,170.0 L336.0,182.0 L400.0,182.0" fill="none" stroke="#9860c4" stroke-width="0.95" stroke-linejoin="round" stroke-opacity="1.0"/>
<circle cx="315.0" cy="170.0" r="1" fill="#9860c4"/>
<circle cx="336.0" cy="182.0" r="1" fill="#9860c4"/>
<circle cx="400.0" cy="182.0" r="1" fill="#9860c4"/>
<path d="M266.5,129.0 L300.0,148.0 L336.0,170.0 L410.0,176.0" fill="none" stroke="#9860c4" stroke-width="0.95" stroke-linejoin="round" stroke-opacity="1.0"/>
<circle cx="300.0" cy="148.0" r="1" fill="#9860c4"/>
<circle cx="336.0" cy="170.0" r="1" fill="#9860c4"/>
<circle cx="410.0" cy="176.0" r="1" fill="#9860c4"/>
<path d="M266.5,129.0 L330.0,181.0 L380.0,182.0" fill="none" stroke="#9860c4" stroke-width="0.95" stroke-linejoin="round" stroke-opacity="1.0"/>
<circle cx="330.0" cy="181.0" r="1" fill="#9860c4"/>
<circle cx="380.0" cy="182.0" r="1" fill="#9860c4"/>
<path d="M266.5,129.0 L300.0,156.0 L335.0,176.0 L370.0,181.0" fill="none" stroke="#9860c4" stroke-width="0.95" stroke-linejoin="round" stroke-opacity="1.0"/>
<circle cx="300.0" cy="156.0" r="1" fill="#9860c4"/>
<circle cx="335.0" cy="176.0" r="1" fill="#9860c4"/>
<circle cx="370.0" cy="181.0" r="1" fill="#9860c4"/>
<path d="M266.5,129.0 L323.0,182.0 L372.0,181.0" fill="none" stroke="#9860c4" stroke-width="0.95" stroke-linejoin="round" stroke-opacity="1.0"/>
<circle cx="323.0" cy="182.0" r="1" fill="#9860c4"/>
<circle cx="372.0" cy="181.0" r="1" fill="#9860c4"/>
<path d="M266.5,129.0 L318.0,174.0 L334.0,181.0 L360.0,181.5" fill="none" stroke="#9860c4" stroke-width="0.95" stroke-linejoin="round" stroke-opacity="1.0"/>
<circle cx="318.0" cy="174.0" r="1" fill="#9860c4"/>
<circle cx="334.0" cy="181.0" r="1" fill="#9860c4"/>
<circle cx="360.0" cy="181.5" r="1" fill="#9860c4"/>
<path d="M266.5,129.0 L312.0,172.0 L336.0,182.0 L426.0,181.5" fill="none" stroke="#9860c4" stroke-width="0.95" stroke-linejoin="round" stroke-opacity="1.0"/>
<circle cx="312.0" cy="172.0" r="1" fill="#9860c4"/>
<circle cx="336.0" cy="182.0" r="1" fill="#9860c4"/>
<circle cx="426.0" cy="181.5" r="1" fill="#9860c4"/>
<line x1="266.50" y1="59.60" x2="266.50" y2="71.70" stroke="#333" stroke-width="1.3" />
<line x1="265.20" y1="71.70" x2="267.80" y2="71.70" stroke="#222" stroke-width="1.0" />
<line x1="266.50" y1="74.30" x2="266.50" y2="182.00" stroke="#3a3a3a" stroke-width="1.4" />
<line x1="265.20" y1="74.60" x2="267.80" y2="74.60" stroke="#222" stroke-width="1.0" />
<line x1="264.50" y1="59.60" x2="266.50" y2="59.60" stroke="#3a3a3a" stroke-width="1.0" />
<line x1="264.50" y1="128.90" x2="266.50" y2="128.90" stroke="#3a3a3a" stroke-width="1.0" />
<line x1="264.50" y1="144.80" x2="266.50" y2="144.80" stroke="#3a3a3a" stroke-width="1.0" />
<line x1="264.50" y1="182.00" x2="266.50" y2="182.00" stroke="#3a3a3a" stroke-width="1.0" />
<text x="263.70" y="62.54" font-size="8.2" font-weight="bold" text-anchor="end" fill="#111" >500</text>
<text x="263.70" y="77.24" font-size="8.2" font-weight="bold" text-anchor="end" fill="#111" >100</text>
<text x="263.70" y="131.84" font-size="8.2" font-weight="bold" text-anchor="end" fill="#111" >0</text>
<text x="263.70" y="147.74" font-size="8.2" font-weight="bold" text-anchor="end" fill="#111" >-30</text>
<text x="263.70" y="184.94" font-size="8.2" font-weight="bold" text-anchor="end" fill="#111" >-100</text>
<line x1="388.90" y1="128.90" x2="388.90" y2="130.70" stroke="#3a3a3a" stroke-width="1" />
<line x1="511.00" y1="127.40" x2="511.00" y2="130.70" stroke="#3a3a3a" stroke-width="1" />
<text x="388.90" y="138.34" font-size="8.2" font-weight="bold" text-anchor="middle" fill="#111" >50</text>
<text x="511.50" y="138.34" font-size="8.2" font-weight="bold" text-anchor="middle" fill="#111" >100</text>
<line x1="315.50" y1="60.30" x2="315.50" y2="182.00" stroke="#3c3c3c" stroke-width="1.3" />
<line x1="376.90" y1="60.30" x2="376.90" y2="182.00" stroke="#3c3c3c" stroke-width="1.3" />
<text x="293.00" y="61.63" font-size="8.748" font-weight="normal" text-anchor="middle" fill="#222" textLength="30.62" lengthAdjust="spacingAndGlyphs">2 Weeks</text>
<text x="346.30" y="61.63" font-size="8.748" font-weight="normal" text-anchor="middle" fill="#222" textLength="30.62" lengthAdjust="spacingAndGlyphs">4 Weeks</text>
<text x="441.30" y="61.63" font-size="8.748" font-weight="normal" text-anchor="middle" fill="#222" textLength="30.62" lengthAdjust="spacingAndGlyphs">8 Weeks</text>
<g transform="translate(245.20,118.80) rotate(-90)"><text x="0" y="2.90" font-size="8.1" font-weight="bold" text-anchor="middle" fill="#111">% Change in ctDNA</text></g>
<text x="388.00" y="200.83" font-size="8.748" font-weight="normal" text-anchor="middle" fill="#222" textLength="17.98" lengthAdjust="spacingAndGlyphs">Days</text>
<circle cx="490.00" cy="182.50" r="0.9" fill="#9860c4"/>
<circle cx="504.60" cy="182.50" r="0.9" fill="#9860c4"/>
<line x1="267.4" y1="308.6" x2="472" y2="308.6" stroke="#d8d4c8" stroke-width="1"/>
<line x1="265.40" y1="295.00" x2="473.40" y2="295.00" stroke="#3a3a3a" stroke-width="1.6" />
<path d="M265.4,295.0 L292.3,246.2 L320.0,340.0" fill="none" stroke="#3a3aa8" stroke-width="1.0" stroke-linejoin="round" stroke-opacity="1.0"/>
<circle cx="292.3" cy="246.2" r="1" fill="#3a3aa8"/>
<circle cx="320.0" cy="340.0" r="1" fill="#3a3aa8"/>
<path d="M265.4,295.0 L323.5,245.5" fill="none" stroke="#3a3aa8" stroke-width="1.0" stroke-linejoin="round" stroke-opacity="1.0"/>
<circle cx="323.5" cy="245.5" r="1" fill="#3a3aa8"/>
<path d="M265.4,295.0 L386.5,249.5" fill="none" stroke="#3a3aa8" stroke-width="1.0" stroke-linejoin="round" stroke-opacity="1.0"/>
<circle cx="386.5" cy="249.5" r="1" fill="#3a3aa8"/>
<path d="M265.4,295.0 L349.0,248.0 L396.0,238.0" fill="none" stroke="#3a3aa8" stroke-width="1.0" stroke-linejoin="round" stroke-opacity="1.0"/>
<circle cx="349.0" cy="248.0" r="1" fill="#3a3aa8"/>
<circle cx="396.0" cy="238.0" r="1" fill="#3a3aa8"/>
<path d="M265.4,295.0 L348.0,248.5" fill="none" stroke="#3a3aa8" stroke-width="1.7" stroke-linejoin="round" stroke-opacity="1.0"/>
<circle cx="348.0" cy="248.5" r="1" fill="#3a3aa8"/>
<path d="M265.4,295.0 L318.8,281.2 L378.5,242.8" fill="none" stroke="#d9a05a" stroke-width="1.0" stroke-linejoin="round" stroke-opacity="1.0"/>
<circle cx="318.8" cy="281.2" r="1" fill="#d9a05a"/>
<circle cx="378.5" cy="242.8" r="1" fill="#d9a05a"/>
<path d="M265.4,295.0 L358.3,240.1 L417.2,317.0" fill="none" stroke="#3a3aa8" stroke-width="1.0" stroke-linejoin="round" stroke-opacity="1.0"/>
<circle cx="358.3" cy="240.1" r="1" fill="#3a3aa8"/>
<circle cx="417.2" cy="317.0" r="1" fill="#3a3aa8"/>
<path d="M265.4,295.0 L323.5,335.4 L379.8,250.0 L381.2,245.5" fill="none" stroke="#3a3aa8" stroke-width="1.0" stroke-linejoin="round" stroke-opacity="1.0"/>
<circle cx="323.5" cy="335.4" r="1" fill="#3a3aa8"/>
<circle cx="379.8" cy="250.0" r="1" fill="#3a3aa8"/>
<circle cx="381.2" cy="245.5" r="1" fill="#3a3aa8"/>
<path d="M265.4,295.0 L345.0,339.5 L452.5,242.0" fill="none" stroke="#3a3aa8" stroke-width="1.0" stroke-linejoin="round" stroke-opacity="1.0"/>
<circle cx="345.0" cy="339.5" r="1" fill="#3a3aa8"/>
<circle cx="452.5" cy="242.0" r="1" fill="#3a3aa8"/>
<path d="M265.4,295.0 L287.4,339.2 L295.0,339.2" fill="none" stroke="#d9a05a" stroke-width="1.0" stroke-linejoin="round" stroke-opacity="1.0"/>
<circle cx="287.4" cy="339.2" r="1" fill="#d9a05a"/>
<circle cx="295.0" cy="339.2" r="1" fill="#d9a05a"/>
<path d="M265.4,295.0 L295.0,334.6 L298.9,340.0" fill="none" stroke="#3a3aa8" stroke-width="1.0" stroke-linejoin="round" stroke-opacity="1.0"/>
<circle cx="295.0" cy="334.6" r="1" fill="#3a3aa8"/>
<circle cx="298.9" cy="340.0" r="1" fill="#3a3aa8"/>
<path d="M265.4,295.0 L323.5,303.8 L340.0,310.0 L382.0,313.8 L396.5,311.8" fill="none" stroke="#3a3aa8" stroke-width="1.0" stroke-linejoin="round" stroke-opacity="1.0"/>
<circle cx="323.5" cy="303.8" r="1" fill="#3a3aa8"/>
<circle cx="340.0" cy="310.0" r="1" fill="#3a3aa8"/>
<circle cx="382.0" cy="313.8" r="1" fill="#3a3aa8"/>
<circle cx="396.5" cy="311.8" r="1" fill="#3a3aa8"/>
<path d="M265.4,295.0 L327.4,309.2 L394.2,304.2" fill="none" stroke="#3a3aa8" stroke-width="1.0" stroke-linejoin="round" stroke-opacity="1.0"/>
<circle cx="327.4" cy="309.2" r="1" fill="#3a3aa8"/>
<circle cx="394.2" cy="304.2" r="1" fill="#3a3aa8"/>
<path d="M265.4,295.0 L323.5,323.8 L371.2,316.5" fill="none" stroke="#3a3aa8" stroke-width="1.0" stroke-linejoin="round" stroke-opacity="1.0"/>
<circle cx="323.5" cy="323.8" r="1" fill="#3a3aa8"/>
<circle cx="371.2" cy="316.5" r="1" fill="#3a3aa8"/>
<path d="M265.4,295.0 L323.5,340.0 L396.5,339.5" fill="none" stroke="#3a3aa8" stroke-width="1.0" stroke-linejoin="round" stroke-opacity="1.0"/>
<circle cx="323.5" cy="340.0" r="1" fill="#3a3aa8"/>
<circle cx="396.5" cy="339.5" r="1" fill="#3a3aa8"/>
<path d="M265.4,295.0 L320.5,340.0 L381.0,339.5" fill="none" stroke="#3a3aa8" stroke-width="1.0" stroke-linejoin="round" stroke-opacity="1.0"/>
<circle cx="320.5" cy="340.0" r="1" fill="#3a3aa8"/>
<circle cx="381.0" cy="339.5" r="1" fill="#3a3aa8"/>
<path d="M265.4,295.0 L322.0,330.0 L378.0,333.0 L436.2,319.2" fill="none" stroke="#d9a05a" stroke-width="1.0" stroke-linejoin="round" stroke-opacity="1.0"/>
<circle cx="322.0" cy="330.0" r="1" fill="#d9a05a"/>
<circle cx="378.0" cy="333.0" r="1" fill="#d9a05a"/>
<circle cx="436.2" cy="319.2" r="1" fill="#d9a05a"/>
<path d="M265.4,295.0 L323.0,337.0 L360.0,338.0 L440.3,313.9" fill="none" stroke="#3a3aa8" stroke-width="1.0" stroke-linejoin="round" stroke-opacity="1.0"/>
<circle cx="323.0" cy="337.0" r="1" fill="#3a3aa8"/>
<circle cx="360.0" cy="338.0" r="1" fill="#3a3aa8"/>
<circle cx="440.3" cy="313.9" r="1" fill="#3a3aa8"/>
<path d="M265.4,295.0 L352.7,339.5 L465.4,311.5" fill="none" stroke="#3a3aa8" stroke-width="1.0" stroke-linejoin="round" stroke-opacity="1.0"/>
<circle cx="352.7" cy="339.5" r="1" fill="#3a3aa8"/>
<circle cx="465.4" cy="311.5" r="1" fill="#3a3aa8"/>
<path d="M265.4,295.0 L335.0,325.0 L380.0,331.5 L442.3,338.1" fill="none" stroke="#3a3aa8" stroke-width="1.0" stroke-linejoin="round" stroke-opacity="1.0"/>
<circle cx="335.0" cy="325.0" r="1" fill="#3a3aa8"/>
<circle cx="380.0" cy="331.5" r="1" fill="#3a3aa8"/>
<circle cx="442.3" cy="338.1" r="1" fill="#3a3aa8"/>
<path d="M265.4,295.0 L352.7,339.5 L454.6,340.0" fill="none" stroke="#3a3aa8" stroke-width="1.0" stroke-linejoin="round" stroke-opacity="1.0"/>
<circle cx="352.7" cy="339.5" r="1" fill="#3a3aa8"/>
<circle cx="454.6" cy="340.0" r="1" fill="#3a3aa8"/>
<path d="M265.4,295.0 L300.0,322.0 L340.0,335.0 L431.5,340.0" fill="none" stroke="#d9a05a" stroke-width="1.0" stroke-linejoin="round" stroke-opacity="1.0"/>
<circle cx="300.0" cy="322.0" r="1" fill="#d9a05a"/>
<circle cx="340.0" cy="335.0" r="1" fill="#d9a05a"/>
<circle cx="431.5" cy="340.0" r="1" fill="#d9a05a"/>
<path d="M265.4,295.0 L335.0,310.0 L385.8,332.3" fill="none" stroke="#3a3aa8" stroke-width="1.0" stroke-linejoin="round" stroke-opacity="1.0"/>
<circle cx="335.0" cy="310.0" r="1" fill="#3a3aa8"/>
<circle cx="385.8" cy="332.3" r="1" fill="#3a3aa8"/>
<path d="M265.4,295.0 L310.0,325.0 L372.0,328.0" fill="none" stroke="#d9a05a" stroke-width="1.0" stroke-linejoin="round" stroke-opacity="1.0"/>
<circle cx="310.0" cy="325.0" r="1" fill="#d9a05a"/>
<circle cx="372.0" cy="328.0" r="1" fill="#d9a05a"/>
<path d="M265.4,295.0 L330.0,328.0 L410.4,339.5" fill="none" stroke="#3a3aa8" stroke-width="1.0" stroke-linejoin="round" stroke-opacity="1.0"/>
<circle cx="330.0" cy="328.0" r="1" fill="#3a3aa8"/>
<circle cx="410.4" cy="339.5" r="1" fill="#3a3aa8"/>
<path d="M265.4,295.0 L300.0,340.0 L372.0,339.5" fill="none" stroke="#3a3aa8" stroke-width="1.0" stroke-linejoin="round" stroke-opacity="1.0"/>
<circle cx="300.0" cy="340.0" r="1" fill="#3a3aa8"/>
<circle cx="372.0" cy="339.5" r="1" fill="#3a3aa8"/>
<path d="M265.4,295.0 L320.0,315.0 L350.0,325.0 L384.0,333.0" fill="none" stroke="#3a3aa8" stroke-width="1.0" stroke-linejoin="round" stroke-opacity="1.0"/>
<circle cx="320.0" cy="315.0" r="1" fill="#3a3aa8"/>
<circle cx="350.0" cy="325.0" r="1" fill="#3a3aa8"/>
<circle cx="384.0" cy="333.0" r="1" fill="#3a3aa8"/>
<path d="M265.4,295.0 L324.0,320.0 L395.8,312.0" fill="none" stroke="#3a3aa8" stroke-width="1.0" stroke-linejoin="round" stroke-opacity="1.0"/>
<circle cx="324.0" cy="320.0" r="1" fill="#3a3aa8"/>
<circle cx="395.8" cy="312.0" r="1" fill="#3a3aa8"/>
<path d="M265.4,295.0 L325.0,315.0 L360.0,325.0 L395.0,333.0" fill="none" stroke="#d9a05a" stroke-width="1.0" stroke-linejoin="round" stroke-opacity="1.0"/>
<circle cx="325.0" cy="315.0" r="1" fill="#d9a05a"/>
<circle cx="360.0" cy="325.0" r="1" fill="#d9a05a"/>
<circle cx="395.0" cy="333.0" r="1" fill="#d9a05a"/>
<path d="M265.4,295.0 L310.0,330.0 L336.5,339.5" fill="none" stroke="#3a3aa8" stroke-width="1.0" stroke-linejoin="round" stroke-opacity="1.0"/>
<circle cx="310.0" cy="330.0" r="1" fill="#3a3aa8"/>
<circle cx="336.5" cy="339.5" r="1" fill="#3a3aa8"/>
<path d="M265.4,295.0 L338.0,333.0 L426.0,340.0" fill="none" stroke="#3a3aa8" stroke-width="1.0" stroke-linejoin="round" stroke-opacity="1.0"/>
<circle cx="338.0" cy="333.0" r="1" fill="#3a3aa8"/>
<circle cx="426.0" cy="340.0" r="1" fill="#3a3aa8"/>
<line x1="265.40" y1="236.40" x2="265.40" y2="246.20" stroke="#333" stroke-width="1.3" />
<line x1="264.10" y1="246.20" x2="266.70" y2="246.20" stroke="#222" stroke-width="1.0" />
<line x1="265.40" y1="248.80" x2="265.40" y2="340.40" stroke="#3a3a3a" stroke-width="1.4" />
<line x1="264.10" y1="249.10" x2="266.70" y2="249.10" stroke="#222" stroke-width="1.0" />
<line x1="263.40" y1="236.40" x2="265.40" y2="236.40" stroke="#3a3a3a" stroke-width="1.0" />
<line x1="263.40" y1="295.00" x2="265.40" y2="295.00" stroke="#3a3a3a" stroke-width="1.0" />
<line x1="263.40" y1="308.60" x2="265.40" y2="308.60" stroke="#3a3a3a" stroke-width="1.0" />
<line x1="263.40" y1="340.40" x2="265.40" y2="340.40" stroke="#3a3a3a" stroke-width="1.0" />
<text x="262.60" y="238.87" font-size="6.9" font-weight="bold" text-anchor="end" fill="#111" >500</text>
<text x="262.60" y="251.27" font-size="6.9" font-weight="bold" text-anchor="end" fill="#111" >100</text>
<text x="262.60" y="297.47" font-size="6.9" font-weight="bold" text-anchor="end" fill="#111" >0</text>
<text x="262.60" y="311.07" font-size="6.9" font-weight="bold" text-anchor="end" fill="#111" >-30</text>
<text x="262.60" y="342.87" font-size="6.9" font-weight="bold" text-anchor="end" fill="#111" >-100</text>
<line x1="369.40" y1="295.00" x2="369.40" y2="296.80" stroke="#3a3a3a" stroke-width="1" />
<line x1="472.90" y1="293.50" x2="472.90" y2="296.80" stroke="#3a3a3a" stroke-width="1" />
<text x="369.40" y="303.97" font-size="6.9" font-weight="bold" text-anchor="middle" fill="#111" >50</text>
<text x="473.40" y="303.97" font-size="6.9" font-weight="bold" text-anchor="middle" fill="#111" >100</text>
<line x1="306.40" y1="237.20" x2="306.40" y2="340.40" stroke="#3c3c3c" stroke-width="1.3" />
<line x1="358.90" y1="237.20" x2="358.90" y2="340.40" stroke="#3c3c3c" stroke-width="1.3" />
<text x="286.20" y="237.59" font-size="7.236000000000001" font-weight="normal" text-anchor="middle" fill="#222" textLength="25.33" lengthAdjust="spacingAndGlyphs">2 Weeks</text>
<text x="331.50" y="237.59" font-size="7.236000000000001" font-weight="normal" text-anchor="middle" fill="#222" textLength="25.33" lengthAdjust="spacingAndGlyphs">4 Weeks</text>
<text x="412.80" y="237.59" font-size="7.236000000000001" font-weight="normal" text-anchor="middle" fill="#222" textLength="25.33" lengthAdjust="spacingAndGlyphs">8 Weeks</text>
<g transform="translate(245.60,286.20) rotate(-90)"><text x="0" y="2.36" font-size="6.6" font-weight="bold" text-anchor="middle" fill="#111">%  Change in ctDNA</text></g>
<text x="368.75" y="356.34" font-size="7.236000000000001" font-weight="normal" text-anchor="middle" fill="#222" textLength="14.87" lengthAdjust="spacingAndGlyphs">Days</text>
<circle cx="446.00" cy="340.00" r="1" fill="#3a3aa8"/>
<circle cx="467.00" cy="340.00" r="1" fill="#3a3aa8"/>
<circle cx="336.50" cy="339.50" r="1" fill="#3a3aa8"/>
<circle cx="352.70" cy="339.50" r="1" fill="#3a3aa8"/>
<circle cx="410.00" cy="340.00" r="1" fill="#3a3aa8"/>
<line x1="388.00" y1="355.20" x2="392.00" y2="355.20" stroke="#3a3ab0" stroke-width="1.4" />
<line x1="388.00" y1="366.00" x2="392.00" y2="366.00" stroke="#d9a060" stroke-width="1.4" />
<text x="394.50" y="357.29" font-size="6.4" font-weight="normal" text-anchor="start" fill="#222" >Patient progressed within 6mo.</text>
<text x="394.50" y="364.49" font-size="6.4" font-weight="normal" text-anchor="start" fill="#222" >Patient did not progress with in</text>
<text x="394.50" y="371.89" font-size="6.4" font-weight="normal" text-anchor="start" fill="#222" >6mo.</text>
<line x1="269.6" y1="506.4" x2="520" y2="506.4" stroke="#c8c8c8" stroke-width="0.9" stroke-dasharray="2.2,1.6"/>
<line x1="267.60" y1="490.30" x2="514.80" y2="490.30" stroke="#3a3a3a" stroke-width="1.6" />
<path d="M267.8,490.3 L293.5,433.5 L322.0,430.8 L336.5,431.2 L405.8,421.5" fill="none" stroke="#c8323f" stroke-width="1.0" stroke-linejoin="round" stroke-opacity="1.0"/>
<circle cx="293.5" cy="433.5" r="1" fill="#c8323f"/>
<circle cx="322.0" cy="430.8" r="1" fill="#c8323f"/>
<circle cx="336.5" cy="431.2" r="1" fill="#c8323f"/>
<circle cx="405.8" cy="421.5" r="1" fill="#c8323f"/>
<path d="M336.5,431.5 L356.5,432.4" fill="none" stroke="#c8323f" stroke-width="1.0" stroke-linejoin="round" stroke-opacity="1.0"/>
<circle cx="356.5" cy="432.4" r="1" fill="#c8323f"/>
<path d="M267.8,490.3 L315.8,438.0" fill="none" stroke="#c8323f" stroke-width="1.0" stroke-linejoin="round" stroke-opacity="1.0"/>
<circle cx="315.8" cy="438.0" r="1" fill="#c8323f"/>
<path d="M267.8,490.3 L330.5,437.3" fill="none" stroke="#c8323f" stroke-width="1.0" stroke-linejoin="round" stroke-opacity="1.0"/>
<circle cx="330.5" cy="437.3" r="1" fill="#c8323f"/>
<path d="M267.8,490.3 L350.4,436.5" fill="none" stroke="#c8323f" stroke-width="1.0" stroke-linejoin="round" stroke-opacity="1.0"/>
<circle cx="350.4" cy="436.5" r="1" fill="#c8323f"/>
<path d="M267.8,490.3 L326.6,452.7 L395.8,465.0" fill="none" stroke="#c8323f" stroke-width="1.0" stroke-linejoin="round" stroke-opacity="1.0"/>
<circle cx="326.6" cy="452.7" r="1" fill="#c8323f"/>
<circle cx="395.8" cy="465.0" r="1" fill="#c8323f"/>
<path d="M267.8,490.3 L336.6,476.5 L405.8,468.0" fill="none" stroke="#c8323f" stroke-width="1.0" stroke-linejoin="round" stroke-opacity="1.0"/>
<circle cx="336.6" cy="476.5" r="1" fill="#c8323f"/>
<circle cx="405.8" cy="468.0" r="1" fill="#c8323f"/>
<path d="M267.8,490.3 L336.6,481.2 L405.8,470.4" fill="none" stroke="#c8323f" stroke-width="1.0" stroke-linejoin="round" stroke-opacity="1.0"/>
<circle cx="336.6" cy="481.2" r="1" fill="#c8323f"/>
<circle cx="405.8" cy="470.4" r="1" fill="#c8323f"/>
<path d="M267.8,490.3 L302.0,483.5 L351.2,472.2" fill="none" stroke="#c8323f" stroke-width="1.0" stroke-linejoin="round" stroke-opacity="1.0"/>
<circle cx="302.0" cy="483.5" r="1" fill="#c8323f"/>
<circle cx="351.2" cy="472.2" r="1" fill="#c8323f"/>
<path d="M267.8,490.3 L302.0,489.6 L371.2,478.8" fill="none" stroke="#c8323f" stroke-width="1.0" stroke-linejoin="round" stroke-opacity="1.0"/>
<circle cx="302.0" cy="489.6" r="1" fill="#c8323f"/>
<circle cx="371.2" cy="478.8" r="1" fill="#c8323f"/>
<path d="M267.8,490.3 L336.6,487.3 L457.7,466.2" fill="none" stroke="#c8323f" stroke-width="1.0" stroke-linejoin="round" stroke-opacity="1.0"/>
<circle cx="336.6" cy="487.3" r="1" fill="#c8323f"/>
<circle cx="457.7" cy="466.2" r="1" fill="#c8323f"/>
<path d="M267.8,490.3 L329.0,543.0 L380.4,451.9" fill="none" stroke="#c8323f" stroke-width="1.0" stroke-linejoin="round" stroke-opacity="1.0"/>
<circle cx="329.0" cy="543.0" r="1" fill="#c8323f"/>
<circle cx="380.4" cy="451.9" r="1" fill="#c8323f"/>
<path d="M267.8,490.3 L302.0,518.3 L340.0,492.0" fill="none" stroke="#c8323f" stroke-width="1.0" stroke-linejoin="round" stroke-opacity="1.0"/>
<circle cx="302.0" cy="518.3" r="1" fill="#c8323f"/>
<circle cx="340.0" cy="492.0" r="1" fill="#c8323f"/>
<path d="M267.8,490.3 L336.6,512.2 L405.8,497.5" fill="none" stroke="#c8323f" stroke-width="1.0" stroke-linejoin="round" stroke-opacity="1.0"/>
<circle cx="336.6" cy="512.2" r="1" fill="#c8323f"/>
<circle cx="405.8" cy="497.5" r="1" fill="#c8323f"/>
<path d="M267.8,490.3 L341.2,503.7 L405.8,509.8" fill="none" stroke="#c8323f" stroke-width="1.0" stroke-linejoin="round" stroke-opacity="1.0"/>
<circle cx="341.2" cy="503.7" r="1" fill="#c8323f"/>
<circle cx="405.8" cy="509.8" r="1" fill="#c8323f"/>
<path d="M267.8,490.3 L336.6,518.3 L412.7,511.0" fill="none" stroke="#c8323f" stroke-width="1.0" stroke-linejoin="round" stroke-opacity="1.0"/>
<circle cx="336.6" cy="518.3" r="1" fill="#c8323f"/>
<circle cx="412.7" cy="511.0" r="1" fill="#c8323f"/>
<path d="M267.8,490.3 L365.8,516.8 L457.3,508.0" fill="none" stroke="#c8323f" stroke-width="1.0" stroke-linejoin="round" stroke-opacity="1.0"/>
<circle cx="365.8" cy="516.8" r="1" fill="#c8323f"/>
<circle cx="457.3" cy="508.0" r="1" fill="#c8323f"/>
<path d="M267.8,490.3 L363.5,527.5 L405.8,518.6 L435.0,525.2" fill="none" stroke="#c8323f" stroke-width="1.0" stroke-linejoin="round" stroke-opacity="1.0"/>
<circle cx="363.5" cy="527.5" r="1" fill="#c8323f"/>
<circle cx="405.8" cy="518.6" r="1" fill="#c8323f"/>
<circle cx="435.0" cy="525.2" r="1" fill="#c8323f"/>
<path d="M267.8,490.3 L388.0,521.7 L425.0,526.3" fill="none" stroke="#c8323f" stroke-width="1.0" stroke-linejoin="round" stroke-opacity="1.0"/>
<circle cx="388.0" cy="521.7" r="1" fill="#c8323f"/>
<circle cx="425.0" cy="526.3" r="1" fill="#c8323f"/>
<path d="M267.8,490.3 L344.2,527.5 L403.5,530.3" fill="none" stroke="#c8323f" stroke-width="1.0" stroke-linejoin="round" stroke-opacity="1.0"/>
<circle cx="344.2" cy="527.5" r="1" fill="#c8323f"/>
<circle cx="403.5" cy="530.3" r="1" fill="#c8323f"/>
<path d="M267.8,490.3 L353.5,536.5 L422.7,534.9" fill="none" stroke="#c8323f" stroke-width="1.0" stroke-linejoin="round" stroke-opacity="1.0"/>
<circle cx="353.5" cy="536.5" r="1" fill="#c8323f"/>
<circle cx="422.7" cy="534.9" r="1" fill="#c8323f"/>
<path d="M267.8,490.3 L353.5,539.8 L392.7,541.4" fill="none" stroke="#c8323f" stroke-width="1.0" stroke-linejoin="round" stroke-opacity="1.0"/>
<circle cx="353.5" cy="539.8" r="1" fill="#c8323f"/>
<circle cx="392.7" cy="541.4" r="1" fill="#c8323f"/>
<path d="M267.8,490.3 L306.6,543.0 L358.8,544.2 L457.3,544.3 L475.0,543.7" fill="none" stroke="#c8323f" stroke-width="1.0" stroke-linejoin="round" stroke-opacity="1.0"/>
<circle cx="306.6" cy="543.0" r="1" fill="#c8323f"/>
<circle cx="358.8" cy="544.2" r="1" fill="#c8323f"/>
<circle cx="457.3" cy="544.3" r="1" fill="#c8323f"/>
<circle cx="475.0" cy="543.7" r="1" fill="#c8323f"/>
<path d="M267.8,490.3 L294.3,535.5 L302.0,533.7 L336.6,531.4" fill="none" stroke="#c8323f" stroke-width="1.0" stroke-linejoin="round" stroke-opacity="1.0"/>
<circle cx="294.3" cy="535.5" r="1" fill="#c8323f"/>
<circle cx="302.0" cy="533.7" r="1" fill="#c8323f"/>
<circle cx="336.6" cy="531.4" r="1" fill="#c8323f"/>
<path d="M267.8,490.3 L302.0,537.5 L336.6,536.0" fill="none" stroke="#c8323f" stroke-width="1.0" stroke-linejoin="round" stroke-opacity="1.0"/>
<circle cx="302.0" cy="537.5" r="1" fill="#c8323f"/>
<circle cx="336.6" cy="536.0" r="1" fill="#c8323f"/>
<path d="M267.8,490.3 L300.0,491.0 L435.0,525.2" fill="none" stroke="#c8323f" stroke-width="1.0" stroke-linejoin="round" stroke-opacity="1.0"/>
<circle cx="300.0" cy="491.0" r="1" fill="#c8323f"/>
<circle cx="435.0" cy="525.2" r="1" fill="#c8323f"/>
<path d="M267.8,490.3 L336.6,529.0 L408.0,544.5" fill="none" stroke="#c8323f" stroke-width="1.0" stroke-linejoin="round" stroke-opacity="1.0"/>
<circle cx="336.6" cy="529.0" r="1" fill="#c8323f"/>
<circle cx="408.0" cy="544.5" r="1" fill="#c8323f"/>
<path d="M267.8,490.3 L320.0,505.0 L336.6,543.0" fill="none" stroke="#c8323f" stroke-width="1.0" stroke-linejoin="round" stroke-opacity="1.0"/>
<circle cx="320.0" cy="505.0" r="1" fill="#c8323f"/>
<circle cx="336.6" cy="543.0" r="1" fill="#c8323f"/>
<path d="M267.8,490.3 L310.0,500.0 L336.6,512.2 L413.0,511.0" fill="none" stroke="#c8323f" stroke-width="1.0" stroke-linejoin="round" stroke-opacity="1.0"/>
<circle cx="310.0" cy="500.0" r="1" fill="#c8323f"/>
<circle cx="336.6" cy="512.2" r="1" fill="#c8323f"/>
<circle cx="413.0" cy="511.0" r="1" fill="#c8323f"/>
<path d="M267.8,490.3 L336.6,477.0 L405.4,467.7" fill="none" stroke="#c8323f" stroke-width="1.0" stroke-linejoin="round" stroke-opacity="1.0"/>
<circle cx="336.6" cy="477.0" r="1" fill="#c8323f"/>
<circle cx="405.4" cy="467.7" r="1" fill="#c8323f"/>
<path d="M267.8,490.3 L336.6,487.3" fill="none" stroke="#c8323f" stroke-width="1.0" stroke-linejoin="round" stroke-opacity="1.0"/>
<circle cx="336.6" cy="487.3" r="1" fill="#c8323f"/>
<path d="M267.8,490.3 L322.8,542.2 L336.6,543.0" fill="none" stroke="#c8323f" stroke-width="1.0" stroke-linejoin="round" stroke-opacity="1.0"/>
<circle cx="322.8" cy="542.2" r="1" fill="#c8323f"/>
<circle cx="336.6" cy="543.0" r="1" fill="#c8323f"/>
<line x1="267.60" y1="421.20" x2="267.60" y2="433.40" stroke="#333" stroke-width="1.3" />
<line x1="266.30" y1="433.40" x2="268.90" y2="433.40" stroke="#222" stroke-width="1.0" />
<line x1="267.60" y1="436.00" x2="267.60" y2="544.20" stroke="#3a3a3a" stroke-width="1.4" />
<line x1="266.30" y1="436.30" x2="268.90" y2="436.30" stroke="#222" stroke-width="1.0" />
<line x1="265.60" y1="421.20" x2="267.60" y2="421.20" stroke="#3a3a3a" stroke-width="1.0" />
<line x1="265.60" y1="490.30" x2="267.60" y2="490.30" stroke="#3a3a3a" stroke-width="1.0" />
<line x1="265.60" y1="506.40" x2="267.60" y2="506.40" stroke="#3a3a3a" stroke-width="1.0" />
<line x1="265.60" y1="544.20" x2="267.60" y2="544.20" stroke="#3a3a3a" stroke-width="1.0" />
<text x="264.80" y="424.17" font-size="8.3" font-weight="bold" text-anchor="end" fill="#111" >500</text>
<text x="264.80" y="438.97" font-size="8.3" font-weight="bold" text-anchor="end" fill="#111" >100</text>
<text x="264.80" y="493.27" font-size="8.3" font-weight="bold" text-anchor="end" fill="#111" >0</text>
<text x="264.80" y="509.37" font-size="8.3" font-weight="bold" text-anchor="end" fill="#111" >-30</text>
<text x="264.80" y="547.17" font-size="8.3" font-weight="bold" text-anchor="end" fill="#111" >-100</text>
<line x1="390.20" y1="490.30" x2="390.20" y2="492.10" stroke="#3a3a3a" stroke-width="1" />
<line x1="514.30" y1="488.80" x2="514.30" y2="492.10" stroke="#3a3a3a" stroke-width="1" />
<text x="390.20" y="499.77" font-size="8.3" font-weight="bold" text-anchor="middle" fill="#111" >50</text>
<text x="514.80" y="499.77" font-size="8.3" font-weight="bold" text-anchor="middle" fill="#111" >100</text>
<line x1="317.10" y1="421.80" x2="317.10" y2="544.20" stroke="#3c3c3c" stroke-width="1.3" />
<line x1="378.40" y1="421.80" x2="378.40" y2="544.20" stroke="#3c3c3c" stroke-width="1.3" />
<text x="291.20" y="422.49" font-size="9.18" font-weight="normal" text-anchor="middle" fill="#222" textLength="32.13" lengthAdjust="spacingAndGlyphs">2 Weeks</text>
<text x="347.50" y="422.49" font-size="9.18" font-weight="normal" text-anchor="middle" fill="#222" textLength="32.13" lengthAdjust="spacingAndGlyphs">4 Weeks</text>
<text x="447.30" y="422.49" font-size="9.18" font-weight="normal" text-anchor="middle" fill="#222" textLength="32.13" lengthAdjust="spacingAndGlyphs">8 Weeks</text>
<g transform="translate(243.50,480.00) rotate(-90)"><text x="0" y="2.90" font-size="8.1" font-weight="bold" text-anchor="middle" fill="#111">% Change in ctDNA</text></g>
<text x="390.20" y="562.69" font-size="9.18" font-weight="normal" text-anchor="middle" fill="#222" textLength="18.87" lengthAdjust="spacingAndGlyphs">Days</text>
</svg>
</body></html>
